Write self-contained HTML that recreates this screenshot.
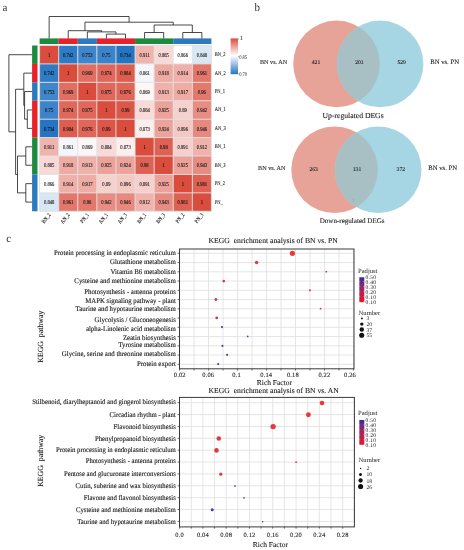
<!DOCTYPE html>
<html><head><meta charset="utf-8"><style>
html,body{margin:0;padding:0;background:#fff;}
body{width:464px;height:550px;overflow:hidden;}
svg{display:block;will-change:transform;}
text{font-family:'Liberation Serif',serif;text-rendering:geometricPrecision;}
</style></head><body>
<svg width="464" height="550" viewBox="0 0 464 550">
<rect width="464" height="550" fill="#fff"/>
<rect x="39.60" y="45.50" width="19.09" height="18.42" fill="#da4c3c"/>
<rect x="58.69" y="45.50" width="19.09" height="18.42" fill="#307bc5"/>
<rect x="77.78" y="45.50" width="19.09" height="18.42" fill="#4086ca"/>
<rect x="96.87" y="45.50" width="19.09" height="18.42" fill="#3c83c9"/>
<rect x="115.96" y="45.50" width="19.09" height="18.42" fill="#2474c2"/>
<rect x="135.05" y="45.50" width="19.09" height="18.42" fill="#f0b4ae"/>
<rect x="154.14" y="45.50" width="19.09" height="18.42" fill="#f7d9d6"/>
<rect x="173.23" y="45.50" width="19.09" height="18.42" fill="#ffffff"/>
<rect x="192.32" y="45.50" width="19.09" height="18.42" fill="#d9e7f4"/>
<rect x="39.60" y="63.92" width="19.09" height="18.42" fill="#307bc5"/>
<rect x="58.69" y="63.92" width="19.09" height="18.42" fill="#da4c3c"/>
<rect x="77.78" y="63.92" width="19.09" height="18.42" fill="#e16e61"/>
<rect x="96.87" y="63.92" width="19.09" height="18.42" fill="#e0685b"/>
<rect x="115.96" y="63.92" width="19.09" height="18.42" fill="#de5d4f"/>
<rect x="135.05" y="63.92" width="19.09" height="18.42" fill="#f3f7fc"/>
<rect x="154.14" y="63.92" width="19.09" height="18.42" fill="#eeaba4"/>
<rect x="173.23" y="63.92" width="19.09" height="18.42" fill="#efb0a9"/>
<rect x="192.32" y="63.92" width="19.09" height="18.42" fill="#e3776b"/>
<rect x="39.60" y="82.34" width="19.09" height="18.42" fill="#4086ca"/>
<rect x="58.69" y="82.34" width="19.09" height="18.42" fill="#e16e61"/>
<rect x="77.78" y="82.34" width="19.09" height="18.42" fill="#da4c3c"/>
<rect x="96.87" y="82.34" width="19.09" height="18.42" fill="#e0675a"/>
<rect x="115.96" y="82.34" width="19.09" height="18.42" fill="#df6658"/>
<rect x="135.05" y="82.34" width="19.09" height="18.42" fill="#fdf6f6"/>
<rect x="154.14" y="82.34" width="19.09" height="18.42" fill="#efb2ab"/>
<rect x="173.23" y="82.34" width="19.09" height="18.42" fill="#eeaca5"/>
<rect x="192.32" y="82.34" width="19.09" height="18.42" fill="#e3786c"/>
<rect x="39.60" y="100.76" width="19.09" height="18.42" fill="#3c83c9"/>
<rect x="58.69" y="100.76" width="19.09" height="18.42" fill="#e0685b"/>
<rect x="77.78" y="100.76" width="19.09" height="18.42" fill="#e0675a"/>
<rect x="96.87" y="100.76" width="19.09" height="18.42" fill="#da4c3c"/>
<rect x="115.96" y="100.76" width="19.09" height="18.42" fill="#dc5748"/>
<rect x="135.05" y="100.76" width="19.09" height="18.42" fill="#f8dbd8"/>
<rect x="154.14" y="100.76" width="19.09" height="18.42" fill="#eca29a"/>
<rect x="173.23" y="100.76" width="19.09" height="18.42" fill="#f6d2ce"/>
<rect x="192.32" y="100.76" width="19.09" height="18.42" fill="#e78d83"/>
<rect x="39.60" y="119.18" width="19.09" height="18.42" fill="#2474c2"/>
<rect x="58.69" y="119.18" width="19.09" height="18.42" fill="#de5d4f"/>
<rect x="77.78" y="119.18" width="19.09" height="18.42" fill="#df6658"/>
<rect x="96.87" y="119.18" width="19.09" height="18.42" fill="#dc5748"/>
<rect x="115.96" y="119.18" width="19.09" height="18.42" fill="#da4c3c"/>
<rect x="135.05" y="119.18" width="19.09" height="18.42" fill="#fceeed"/>
<rect x="154.14" y="119.18" width="19.09" height="18.42" fill="#eca39b"/>
<rect x="173.23" y="119.18" width="19.09" height="18.42" fill="#f4c9c4"/>
<rect x="192.32" y="119.18" width="19.09" height="18.42" fill="#e7897e"/>
<rect x="39.60" y="137.60" width="19.09" height="18.42" fill="#f0b4ae"/>
<rect x="58.69" y="137.60" width="19.09" height="18.42" fill="#f3f7fc"/>
<rect x="77.78" y="137.60" width="19.09" height="18.42" fill="#fdf6f6"/>
<rect x="96.87" y="137.60" width="19.09" height="18.42" fill="#f8dbd8"/>
<rect x="115.96" y="137.60" width="19.09" height="18.42" fill="#fceeed"/>
<rect x="135.05" y="137.60" width="19.09" height="18.42" fill="#da4c3c"/>
<rect x="154.14" y="137.60" width="19.09" height="18.42" fill="#de6254"/>
<rect x="173.23" y="137.60" width="19.09" height="18.42" fill="#f5d0cc"/>
<rect x="192.32" y="137.60" width="19.09" height="18.42" fill="#efb3ac"/>
<rect x="39.60" y="156.02" width="19.09" height="18.42" fill="#f7d9d6"/>
<rect x="58.69" y="156.02" width="19.09" height="18.42" fill="#eeaba4"/>
<rect x="77.78" y="156.02" width="19.09" height="18.42" fill="#efb2ab"/>
<rect x="96.87" y="156.02" width="19.09" height="18.42" fill="#eca29a"/>
<rect x="115.96" y="156.02" width="19.09" height="18.42" fill="#eca39b"/>
<rect x="135.05" y="156.02" width="19.09" height="18.42" fill="#de6254"/>
<rect x="154.14" y="156.02" width="19.09" height="18.42" fill="#da4c3c"/>
<rect x="173.23" y="156.02" width="19.09" height="18.42" fill="#eca29a"/>
<rect x="192.32" y="156.02" width="19.09" height="18.42" fill="#e78c82"/>
<rect x="39.60" y="174.44" width="19.09" height="18.42" fill="#ffffff"/>
<rect x="58.69" y="174.44" width="19.09" height="18.42" fill="#efb0a9"/>
<rect x="77.78" y="174.44" width="19.09" height="18.42" fill="#eeaca5"/>
<rect x="96.87" y="174.44" width="19.09" height="18.42" fill="#f6d2ce"/>
<rect x="115.96" y="174.44" width="19.09" height="18.42" fill="#f4c9c4"/>
<rect x="135.05" y="174.44" width="19.09" height="18.42" fill="#f5d0cc"/>
<rect x="154.14" y="174.44" width="19.09" height="18.42" fill="#eca29a"/>
<rect x="173.23" y="174.44" width="19.09" height="18.42" fill="#da4c3c"/>
<rect x="192.32" y="174.44" width="19.09" height="18.42" fill="#de6152"/>
<rect x="39.60" y="192.86" width="19.09" height="18.42" fill="#d9e7f4"/>
<rect x="58.69" y="192.86" width="19.09" height="18.42" fill="#e3776b"/>
<rect x="77.78" y="192.86" width="19.09" height="18.42" fill="#e3786c"/>
<rect x="96.87" y="192.86" width="19.09" height="18.42" fill="#e78d83"/>
<rect x="115.96" y="192.86" width="19.09" height="18.42" fill="#e7897e"/>
<rect x="135.05" y="192.86" width="19.09" height="18.42" fill="#efb3ac"/>
<rect x="154.14" y="192.86" width="19.09" height="18.42" fill="#e78c82"/>
<rect x="173.23" y="192.86" width="19.09" height="18.42" fill="#de6152"/>
<rect x="192.32" y="192.86" width="19.09" height="18.42" fill="#da4c3c"/>
<line x1="39.60" y1="45.50" x2="39.60" y2="211.28" stroke="#e2e0e0" stroke-width="0.9"/>
<line x1="58.69" y1="45.50" x2="58.69" y2="211.28" stroke="#e2e0e0" stroke-width="0.9"/>
<line x1="77.78" y1="45.50" x2="77.78" y2="211.28" stroke="#e2e0e0" stroke-width="0.9"/>
<line x1="96.87" y1="45.50" x2="96.87" y2="211.28" stroke="#e2e0e0" stroke-width="0.9"/>
<line x1="115.96" y1="45.50" x2="115.96" y2="211.28" stroke="#e2e0e0" stroke-width="0.9"/>
<line x1="135.05" y1="45.50" x2="135.05" y2="211.28" stroke="#e2e0e0" stroke-width="0.9"/>
<line x1="154.14" y1="45.50" x2="154.14" y2="211.28" stroke="#e2e0e0" stroke-width="0.9"/>
<line x1="173.23" y1="45.50" x2="173.23" y2="211.28" stroke="#e2e0e0" stroke-width="0.9"/>
<line x1="192.32" y1="45.50" x2="192.32" y2="211.28" stroke="#e2e0e0" stroke-width="0.9"/>
<line x1="211.41" y1="45.50" x2="211.41" y2="211.28" stroke="#e2e0e0" stroke-width="0.9"/>
<line x1="39.60" y1="45.50" x2="211.41" y2="45.50" stroke="#e2e0e0" stroke-width="0.9"/>
<line x1="39.60" y1="63.92" x2="211.41" y2="63.92" stroke="#e2e0e0" stroke-width="0.9"/>
<line x1="39.60" y1="82.34" x2="211.41" y2="82.34" stroke="#e2e0e0" stroke-width="0.9"/>
<line x1="39.60" y1="100.76" x2="211.41" y2="100.76" stroke="#e2e0e0" stroke-width="0.9"/>
<line x1="39.60" y1="119.18" x2="211.41" y2="119.18" stroke="#e2e0e0" stroke-width="0.9"/>
<line x1="39.60" y1="137.60" x2="211.41" y2="137.60" stroke="#e2e0e0" stroke-width="0.9"/>
<line x1="39.60" y1="156.02" x2="211.41" y2="156.02" stroke="#e2e0e0" stroke-width="0.9"/>
<line x1="39.60" y1="174.44" x2="211.41" y2="174.44" stroke="#e2e0e0" stroke-width="0.9"/>
<line x1="39.60" y1="192.86" x2="211.41" y2="192.86" stroke="#e2e0e0" stroke-width="0.9"/>
<line x1="39.60" y1="211.28" x2="211.41" y2="211.28" stroke="#e2e0e0" stroke-width="0.9"/>
<text x="0" y="0" font-size="6.0" text-anchor="middle" fill="#111" stroke="#111" stroke-width="0.12" transform="translate(49.15,56.91) scale(0.77,1)">1</text>
<text x="0" y="0" font-size="6.0" text-anchor="middle" fill="#111" stroke="#111" stroke-width="0.12" transform="translate(68.23,56.91) scale(0.77,1)">0.742</text>
<text x="0" y="0" font-size="6.0" text-anchor="middle" fill="#111" stroke="#111" stroke-width="0.12" transform="translate(87.33,56.91) scale(0.77,1)">0.753</text>
<text x="0" y="0" font-size="6.0" text-anchor="middle" fill="#111" stroke="#111" stroke-width="0.12" transform="translate(106.41,56.91) scale(0.77,1)">0.75</text>
<text x="0" y="0" font-size="6.0" text-anchor="middle" fill="#111" stroke="#111" stroke-width="0.12" transform="translate(125.50,56.91) scale(0.77,1)">0.734</text>
<text x="0" y="0" font-size="6.0" text-anchor="middle" fill="#111" stroke="#111" stroke-width="0.12" transform="translate(144.59,56.91) scale(0.77,1)">0.911</text>
<text x="0" y="0" font-size="6.0" text-anchor="middle" fill="#111" stroke="#111" stroke-width="0.12" transform="translate(163.69,56.91) scale(0.77,1)">0.885</text>
<text x="0" y="0" font-size="6.0" text-anchor="middle" fill="#111" stroke="#111" stroke-width="0.12" transform="translate(182.78,56.91) scale(0.77,1)">0.866</text>
<text x="0" y="0" font-size="6.0" text-anchor="middle" fill="#111" stroke="#111" stroke-width="0.12" transform="translate(201.86,56.91) scale(0.77,1)">0.848</text>
<text x="0" y="0" font-size="6.0" text-anchor="middle" fill="#111" stroke="#111" stroke-width="0.12" transform="translate(49.15,75.33) scale(0.77,1)">0.742</text>
<text x="0" y="0" font-size="6.0" text-anchor="middle" fill="#111" stroke="#111" stroke-width="0.12" transform="translate(68.23,75.33) scale(0.77,1)">1</text>
<text x="0" y="0" font-size="6.0" text-anchor="middle" fill="#111" stroke="#111" stroke-width="0.12" transform="translate(87.33,75.33) scale(0.77,1)">0.969</text>
<text x="0" y="0" font-size="6.0" text-anchor="middle" fill="#111" stroke="#111" stroke-width="0.12" transform="translate(106.41,75.33) scale(0.77,1)">0.974</text>
<text x="0" y="0" font-size="6.0" text-anchor="middle" fill="#111" stroke="#111" stroke-width="0.12" transform="translate(125.50,75.33) scale(0.77,1)">0.984</text>
<text x="0" y="0" font-size="6.0" text-anchor="middle" fill="#111" stroke="#111" stroke-width="0.12" transform="translate(144.59,75.33) scale(0.77,1)">0.861</text>
<text x="0" y="0" font-size="6.0" text-anchor="middle" fill="#111" stroke="#111" stroke-width="0.12" transform="translate(163.69,75.33) scale(0.77,1)">0.918</text>
<text x="0" y="0" font-size="6.0" text-anchor="middle" fill="#111" stroke="#111" stroke-width="0.12" transform="translate(182.78,75.33) scale(0.77,1)">0.914</text>
<text x="0" y="0" font-size="6.0" text-anchor="middle" fill="#111" stroke="#111" stroke-width="0.12" transform="translate(201.86,75.33) scale(0.77,1)">0.961</text>
<text x="0" y="0" font-size="6.0" text-anchor="middle" fill="#111" stroke="#111" stroke-width="0.12" transform="translate(49.15,93.75) scale(0.77,1)">0.753</text>
<text x="0" y="0" font-size="6.0" text-anchor="middle" fill="#111" stroke="#111" stroke-width="0.12" transform="translate(68.23,93.75) scale(0.77,1)">0.969</text>
<text x="0" y="0" font-size="6.0" text-anchor="middle" fill="#111" stroke="#111" stroke-width="0.12" transform="translate(87.33,93.75) scale(0.77,1)">1</text>
<text x="0" y="0" font-size="6.0" text-anchor="middle" fill="#111" stroke="#111" stroke-width="0.12" transform="translate(106.41,93.75) scale(0.77,1)">0.975</text>
<text x="0" y="0" font-size="6.0" text-anchor="middle" fill="#111" stroke="#111" stroke-width="0.12" transform="translate(125.50,93.75) scale(0.77,1)">0.976</text>
<text x="0" y="0" font-size="6.0" text-anchor="middle" fill="#111" stroke="#111" stroke-width="0.12" transform="translate(144.59,93.75) scale(0.77,1)">0.869</text>
<text x="0" y="0" font-size="6.0" text-anchor="middle" fill="#111" stroke="#111" stroke-width="0.12" transform="translate(163.69,93.75) scale(0.77,1)">0.913</text>
<text x="0" y="0" font-size="6.0" text-anchor="middle" fill="#111" stroke="#111" stroke-width="0.12" transform="translate(182.78,93.75) scale(0.77,1)">0.917</text>
<text x="0" y="0" font-size="6.0" text-anchor="middle" fill="#111" stroke="#111" stroke-width="0.12" transform="translate(201.86,93.75) scale(0.77,1)">0.96</text>
<text x="0" y="0" font-size="6.0" text-anchor="middle" fill="#111" stroke="#111" stroke-width="0.12" transform="translate(49.15,112.17) scale(0.77,1)">0.75</text>
<text x="0" y="0" font-size="6.0" text-anchor="middle" fill="#111" stroke="#111" stroke-width="0.12" transform="translate(68.23,112.17) scale(0.77,1)">0.974</text>
<text x="0" y="0" font-size="6.0" text-anchor="middle" fill="#111" stroke="#111" stroke-width="0.12" transform="translate(87.33,112.17) scale(0.77,1)">0.975</text>
<text x="0" y="0" font-size="6.0" text-anchor="middle" fill="#111" stroke="#111" stroke-width="0.12" transform="translate(106.41,112.17) scale(0.77,1)">1</text>
<text x="0" y="0" font-size="6.0" text-anchor="middle" fill="#111" stroke="#111" stroke-width="0.12" transform="translate(125.50,112.17) scale(0.77,1)">0.99</text>
<text x="0" y="0" font-size="6.0" text-anchor="middle" fill="#111" stroke="#111" stroke-width="0.12" transform="translate(144.59,112.17) scale(0.77,1)">0.884</text>
<text x="0" y="0" font-size="6.0" text-anchor="middle" fill="#111" stroke="#111" stroke-width="0.12" transform="translate(163.69,112.17) scale(0.77,1)">0.925</text>
<text x="0" y="0" font-size="6.0" text-anchor="middle" fill="#111" stroke="#111" stroke-width="0.12" transform="translate(182.78,112.17) scale(0.77,1)">0.89</text>
<text x="0" y="0" font-size="6.0" text-anchor="middle" fill="#111" stroke="#111" stroke-width="0.12" transform="translate(201.86,112.17) scale(0.77,1)">0.942</text>
<text x="0" y="0" font-size="6.0" text-anchor="middle" fill="#111" stroke="#111" stroke-width="0.12" transform="translate(49.15,130.59) scale(0.77,1)">0.734</text>
<text x="0" y="0" font-size="6.0" text-anchor="middle" fill="#111" stroke="#111" stroke-width="0.12" transform="translate(68.23,130.59) scale(0.77,1)">0.984</text>
<text x="0" y="0" font-size="6.0" text-anchor="middle" fill="#111" stroke="#111" stroke-width="0.12" transform="translate(87.33,130.59) scale(0.77,1)">0.976</text>
<text x="0" y="0" font-size="6.0" text-anchor="middle" fill="#111" stroke="#111" stroke-width="0.12" transform="translate(106.41,130.59) scale(0.77,1)">0.99</text>
<text x="0" y="0" font-size="6.0" text-anchor="middle" fill="#111" stroke="#111" stroke-width="0.12" transform="translate(125.50,130.59) scale(0.77,1)">1</text>
<text x="0" y="0" font-size="6.0" text-anchor="middle" fill="#111" stroke="#111" stroke-width="0.12" transform="translate(144.59,130.59) scale(0.77,1)">0.873</text>
<text x="0" y="0" font-size="6.0" text-anchor="middle" fill="#111" stroke="#111" stroke-width="0.12" transform="translate(163.69,130.59) scale(0.77,1)">0.924</text>
<text x="0" y="0" font-size="6.0" text-anchor="middle" fill="#111" stroke="#111" stroke-width="0.12" transform="translate(182.78,130.59) scale(0.77,1)">0.896</text>
<text x="0" y="0" font-size="6.0" text-anchor="middle" fill="#111" stroke="#111" stroke-width="0.12" transform="translate(201.86,130.59) scale(0.77,1)">0.946</text>
<text x="0" y="0" font-size="6.0" text-anchor="middle" fill="#111" stroke="#111" stroke-width="0.12" transform="translate(49.15,149.01) scale(0.77,1)">0.911</text>
<text x="0" y="0" font-size="6.0" text-anchor="middle" fill="#111" stroke="#111" stroke-width="0.12" transform="translate(68.23,149.01) scale(0.77,1)">0.861</text>
<text x="0" y="0" font-size="6.0" text-anchor="middle" fill="#111" stroke="#111" stroke-width="0.12" transform="translate(87.33,149.01) scale(0.77,1)">0.869</text>
<text x="0" y="0" font-size="6.0" text-anchor="middle" fill="#111" stroke="#111" stroke-width="0.12" transform="translate(106.41,149.01) scale(0.77,1)">0.884</text>
<text x="0" y="0" font-size="6.0" text-anchor="middle" fill="#111" stroke="#111" stroke-width="0.12" transform="translate(125.50,149.01) scale(0.77,1)">0.873</text>
<text x="0" y="0" font-size="6.0" text-anchor="middle" fill="#111" stroke="#111" stroke-width="0.12" transform="translate(144.59,149.01) scale(0.77,1)">1</text>
<text x="0" y="0" font-size="6.0" text-anchor="middle" fill="#111" stroke="#111" stroke-width="0.12" transform="translate(163.69,149.01) scale(0.77,1)">0.98</text>
<text x="0" y="0" font-size="6.0" text-anchor="middle" fill="#111" stroke="#111" stroke-width="0.12" transform="translate(182.78,149.01) scale(0.77,1)">0.891</text>
<text x="0" y="0" font-size="6.0" text-anchor="middle" fill="#111" stroke="#111" stroke-width="0.12" transform="translate(201.86,149.01) scale(0.77,1)">0.912</text>
<text x="0" y="0" font-size="6.0" text-anchor="middle" fill="#111" stroke="#111" stroke-width="0.12" transform="translate(49.15,167.43) scale(0.77,1)">0.885</text>
<text x="0" y="0" font-size="6.0" text-anchor="middle" fill="#111" stroke="#111" stroke-width="0.12" transform="translate(68.23,167.43) scale(0.77,1)">0.918</text>
<text x="0" y="0" font-size="6.0" text-anchor="middle" fill="#111" stroke="#111" stroke-width="0.12" transform="translate(87.33,167.43) scale(0.77,1)">0.913</text>
<text x="0" y="0" font-size="6.0" text-anchor="middle" fill="#111" stroke="#111" stroke-width="0.12" transform="translate(106.41,167.43) scale(0.77,1)">0.925</text>
<text x="0" y="0" font-size="6.0" text-anchor="middle" fill="#111" stroke="#111" stroke-width="0.12" transform="translate(125.50,167.43) scale(0.77,1)">0.924</text>
<text x="0" y="0" font-size="6.0" text-anchor="middle" fill="#111" stroke="#111" stroke-width="0.12" transform="translate(144.59,167.43) scale(0.77,1)">0.98</text>
<text x="0" y="0" font-size="6.0" text-anchor="middle" fill="#111" stroke="#111" stroke-width="0.12" transform="translate(163.69,167.43) scale(0.77,1)">1</text>
<text x="0" y="0" font-size="6.0" text-anchor="middle" fill="#111" stroke="#111" stroke-width="0.12" transform="translate(182.78,167.43) scale(0.77,1)">0.925</text>
<text x="0" y="0" font-size="6.0" text-anchor="middle" fill="#111" stroke="#111" stroke-width="0.12" transform="translate(201.86,167.43) scale(0.77,1)">0.943</text>
<text x="0" y="0" font-size="6.0" text-anchor="middle" fill="#111" stroke="#111" stroke-width="0.12" transform="translate(49.15,185.85) scale(0.77,1)">0.866</text>
<text x="0" y="0" font-size="6.0" text-anchor="middle" fill="#111" stroke="#111" stroke-width="0.12" transform="translate(68.23,185.85) scale(0.77,1)">0.914</text>
<text x="0" y="0" font-size="6.0" text-anchor="middle" fill="#111" stroke="#111" stroke-width="0.12" transform="translate(87.33,185.85) scale(0.77,1)">0.917</text>
<text x="0" y="0" font-size="6.0" text-anchor="middle" fill="#111" stroke="#111" stroke-width="0.12" transform="translate(106.41,185.85) scale(0.77,1)">0.89</text>
<text x="0" y="0" font-size="6.0" text-anchor="middle" fill="#111" stroke="#111" stroke-width="0.12" transform="translate(125.50,185.85) scale(0.77,1)">0.896</text>
<text x="0" y="0" font-size="6.0" text-anchor="middle" fill="#111" stroke="#111" stroke-width="0.12" transform="translate(144.59,185.85) scale(0.77,1)">0.891</text>
<text x="0" y="0" font-size="6.0" text-anchor="middle" fill="#111" stroke="#111" stroke-width="0.12" transform="translate(163.69,185.85) scale(0.77,1)">0.925</text>
<text x="0" y="0" font-size="6.0" text-anchor="middle" fill="#111" stroke="#111" stroke-width="0.12" transform="translate(182.78,185.85) scale(0.77,1)">1</text>
<text x="0" y="0" font-size="6.0" text-anchor="middle" fill="#111" stroke="#111" stroke-width="0.12" transform="translate(201.86,185.85) scale(0.77,1)">0.981</text>
<text x="0" y="0" font-size="6.0" text-anchor="middle" fill="#111" stroke="#111" stroke-width="0.12" transform="translate(49.15,204.27) scale(0.77,1)">0.848</text>
<text x="0" y="0" font-size="6.0" text-anchor="middle" fill="#111" stroke="#111" stroke-width="0.12" transform="translate(68.23,204.27) scale(0.77,1)">0.961</text>
<text x="0" y="0" font-size="6.0" text-anchor="middle" fill="#111" stroke="#111" stroke-width="0.12" transform="translate(87.33,204.27) scale(0.77,1)">0.96</text>
<text x="0" y="0" font-size="6.0" text-anchor="middle" fill="#111" stroke="#111" stroke-width="0.12" transform="translate(106.41,204.27) scale(0.77,1)">0.942</text>
<text x="0" y="0" font-size="6.0" text-anchor="middle" fill="#111" stroke="#111" stroke-width="0.12" transform="translate(125.50,204.27) scale(0.77,1)">0.946</text>
<text x="0" y="0" font-size="6.0" text-anchor="middle" fill="#111" stroke="#111" stroke-width="0.12" transform="translate(144.59,204.27) scale(0.77,1)">0.912</text>
<text x="0" y="0" font-size="6.0" text-anchor="middle" fill="#111" stroke="#111" stroke-width="0.12" transform="translate(163.69,204.27) scale(0.77,1)">0.943</text>
<text x="0" y="0" font-size="6.0" text-anchor="middle" fill="#111" stroke="#111" stroke-width="0.12" transform="translate(182.78,204.27) scale(0.77,1)">0.981</text>
<text x="0" y="0" font-size="6.0" text-anchor="middle" fill="#111" stroke="#111" stroke-width="0.12" transform="translate(201.86,204.27) scale(0.77,1)">1</text>
<rect x="39.60" y="38.4" width="19.09" height="5.6" fill="#1e8a3e"/>
<rect x="32.1" y="45.50" width="5.4" height="18.42" fill="#1e8a3e"/>
<rect x="58.69" y="38.4" width="19.09" height="5.6" fill="#e8202a"/>
<rect x="32.1" y="63.92" width="5.4" height="18.42" fill="#e8202a"/>
<rect x="77.78" y="38.4" width="19.09" height="5.6" fill="#2a7abd"/>
<rect x="32.1" y="82.34" width="5.4" height="18.42" fill="#2a7abd"/>
<rect x="96.87" y="38.4" width="38.18" height="5.6" fill="#e8202a"/>
<rect x="32.1" y="100.76" width="5.4" height="36.84" fill="#e8202a"/>
<rect x="135.05" y="38.4" width="38.18" height="5.6" fill="#1e8a3e"/>
<rect x="32.1" y="137.60" width="5.4" height="36.84" fill="#1e8a3e"/>
<rect x="173.23" y="38.4" width="38.18" height="5.6" fill="#2a7abd"/>
<rect x="32.1" y="174.44" width="5.4" height="36.84" fill="#2a7abd"/>
<text x="0" y="0" font-size="5.8" fill="#222" stroke="#222" stroke-width="0.1" transform="translate(214.8,56.21) scale(0.78,1)">BN_2</text>
<text x="0" y="0" font-size="5.8" fill="#222" stroke="#222" stroke-width="0.1" transform="translate(214.8,74.63) scale(0.78,1)">AN_2</text>
<text x="0" y="0" font-size="5.8" fill="#222" stroke="#222" stroke-width="0.1" transform="translate(214.8,93.05) scale(0.78,1)">PN_1</text>
<text x="0" y="0" font-size="5.8" fill="#222" stroke="#222" stroke-width="0.1" transform="translate(214.8,111.47) scale(0.78,1)">AN_1</text>
<text x="0" y="0" font-size="5.8" fill="#222" stroke="#222" stroke-width="0.1" transform="translate(214.8,129.89) scale(0.78,1)">AN_3</text>
<text x="0" y="0" font-size="5.8" fill="#222" stroke="#222" stroke-width="0.1" transform="translate(214.8,148.31) scale(0.78,1)">BN_1</text>
<text x="0" y="0" font-size="5.8" fill="#222" stroke="#222" stroke-width="0.1" transform="translate(214.8,166.73) scale(0.78,1)">BN_3</text>
<text x="0" y="0" font-size="5.8" fill="#222" stroke="#222" stroke-width="0.1" transform="translate(214.8,185.15) scale(0.78,1)">PN_2</text>
<text x="0" y="0" font-size="5.8" fill="#222" stroke="#222" stroke-width="0.1" transform="translate(214.8,203.57) scale(0.78,1)">PN_</text>
<text x="0" y="0" font-size="5.5" text-anchor="end" fill="#222" stroke="#222" stroke-width="0.12" transform="translate(50.95,215.0) rotate(-52) scale(0.85,1)">BN_2</text>
<text x="0" y="0" font-size="5.5" text-anchor="end" fill="#222" stroke="#222" stroke-width="0.12" transform="translate(70.03,215.0) rotate(-52) scale(0.85,1)">AN_2</text>
<text x="0" y="0" font-size="5.5" text-anchor="end" fill="#222" stroke="#222" stroke-width="0.12" transform="translate(89.12,215.0) rotate(-52) scale(0.85,1)">PN_1</text>
<text x="0" y="0" font-size="5.5" text-anchor="end" fill="#222" stroke="#222" stroke-width="0.12" transform="translate(108.21,215.0) rotate(-52) scale(0.85,1)">AN_1</text>
<text x="0" y="0" font-size="5.5" text-anchor="end" fill="#222" stroke="#222" stroke-width="0.12" transform="translate(127.30,215.0) rotate(-52) scale(0.85,1)">AN_3</text>
<text x="0" y="0" font-size="5.5" text-anchor="end" fill="#222" stroke="#222" stroke-width="0.12" transform="translate(146.39,215.0) rotate(-52) scale(0.85,1)">BN_1</text>
<text x="0" y="0" font-size="5.5" text-anchor="end" fill="#222" stroke="#222" stroke-width="0.12" transform="translate(165.48,215.0) rotate(-52) scale(0.85,1)">BN_3</text>
<text x="0" y="0" font-size="5.5" text-anchor="end" fill="#222" stroke="#222" stroke-width="0.12" transform="translate(184.57,215.0) rotate(-52) scale(0.85,1)">PN_2</text>
<text x="0" y="0" font-size="5.5" text-anchor="end" fill="#222" stroke="#222" stroke-width="0.12" transform="translate(203.66,215.0) rotate(-52) scale(0.85,1)">PN_3</text>
<line x1="106.41" y1="38.50" x2="106.41" y2="34.10" stroke="#1c1c1c" stroke-width="0.8"/>
<line x1="106.41" y1="34.10" x2="125.50" y2="34.10" stroke="#1c1c1c" stroke-width="0.8"/>
<line x1="125.50" y1="34.10" x2="125.50" y2="38.50" stroke="#1c1c1c" stroke-width="0.8"/>
<line x1="87.33" y1="38.50" x2="87.33" y2="31.90" stroke="#1c1c1c" stroke-width="0.8"/>
<line x1="87.33" y1="31.90" x2="115.96" y2="31.90" stroke="#1c1c1c" stroke-width="0.8"/>
<line x1="115.96" y1="31.90" x2="115.96" y2="34.10" stroke="#1c1c1c" stroke-width="0.8"/>
<line x1="68.23" y1="38.50" x2="68.23" y2="30.70" stroke="#1c1c1c" stroke-width="0.8"/>
<line x1="68.23" y1="30.70" x2="101.64" y2="30.70" stroke="#1c1c1c" stroke-width="0.8"/>
<line x1="101.64" y1="30.70" x2="101.64" y2="31.90" stroke="#1c1c1c" stroke-width="0.8"/>
<line x1="144.59" y1="38.50" x2="144.59" y2="32.50" stroke="#1c1c1c" stroke-width="0.8"/>
<line x1="144.59" y1="32.50" x2="163.69" y2="32.50" stroke="#1c1c1c" stroke-width="0.8"/>
<line x1="163.69" y1="32.50" x2="163.69" y2="38.50" stroke="#1c1c1c" stroke-width="0.8"/>
<line x1="182.78" y1="38.50" x2="182.78" y2="32.50" stroke="#1c1c1c" stroke-width="0.8"/>
<line x1="182.78" y1="32.50" x2="201.86" y2="32.50" stroke="#1c1c1c" stroke-width="0.8"/>
<line x1="201.86" y1="32.50" x2="201.86" y2="38.50" stroke="#1c1c1c" stroke-width="0.8"/>
<line x1="154.14" y1="32.50" x2="154.14" y2="25.00" stroke="#1c1c1c" stroke-width="0.8"/>
<line x1="154.14" y1="25.00" x2="192.32" y2="25.00" stroke="#1c1c1c" stroke-width="0.8"/>
<line x1="192.32" y1="25.00" x2="192.32" y2="32.50" stroke="#1c1c1c" stroke-width="0.8"/>
<line x1="84.94" y1="30.70" x2="84.94" y2="22.20" stroke="#1c1c1c" stroke-width="0.8"/>
<line x1="84.94" y1="22.20" x2="173.23" y2="22.20" stroke="#1c1c1c" stroke-width="0.8"/>
<line x1="173.23" y1="22.20" x2="173.23" y2="25.00" stroke="#1c1c1c" stroke-width="0.8"/>
<line x1="49.15" y1="38.50" x2="49.15" y2="16.50" stroke="#1c1c1c" stroke-width="0.8"/>
<line x1="49.15" y1="16.50" x2="129.08" y2="16.50" stroke="#1c1c1c" stroke-width="0.8"/>
<line x1="129.08" y1="16.50" x2="129.08" y2="22.20" stroke="#1c1c1c" stroke-width="0.8"/>
<line x1="32.10" y1="109.97" x2="27.30" y2="109.97" stroke="#1c1c1c" stroke-width="0.8"/>
<line x1="27.30" y1="109.97" x2="27.30" y2="128.39" stroke="#1c1c1c" stroke-width="0.8"/>
<line x1="27.30" y1="128.39" x2="32.10" y2="128.39" stroke="#1c1c1c" stroke-width="0.8"/>
<line x1="32.10" y1="91.55" x2="24.60" y2="91.55" stroke="#1c1c1c" stroke-width="0.8"/>
<line x1="24.60" y1="91.55" x2="24.60" y2="119.18" stroke="#1c1c1c" stroke-width="0.8"/>
<line x1="24.60" y1="119.18" x2="27.30" y2="119.18" stroke="#1c1c1c" stroke-width="0.8"/>
<line x1="32.10" y1="73.13" x2="23.80" y2="73.13" stroke="#1c1c1c" stroke-width="0.8"/>
<line x1="23.80" y1="73.13" x2="23.80" y2="105.37" stroke="#1c1c1c" stroke-width="0.8"/>
<line x1="23.80" y1="105.37" x2="24.60" y2="105.37" stroke="#1c1c1c" stroke-width="0.8"/>
<line x1="32.10" y1="146.81" x2="25.80" y2="146.81" stroke="#1c1c1c" stroke-width="0.8"/>
<line x1="25.80" y1="146.81" x2="25.80" y2="165.23" stroke="#1c1c1c" stroke-width="0.8"/>
<line x1="25.80" y1="165.23" x2="32.10" y2="165.23" stroke="#1c1c1c" stroke-width="0.8"/>
<line x1="32.10" y1="183.65" x2="25.80" y2="183.65" stroke="#1c1c1c" stroke-width="0.8"/>
<line x1="25.80" y1="183.65" x2="25.80" y2="202.07" stroke="#1c1c1c" stroke-width="0.8"/>
<line x1="25.80" y1="202.07" x2="32.10" y2="202.07" stroke="#1c1c1c" stroke-width="0.8"/>
<line x1="25.80" y1="156.02" x2="17.50" y2="156.02" stroke="#1c1c1c" stroke-width="0.8"/>
<line x1="17.50" y1="156.02" x2="17.50" y2="192.86" stroke="#1c1c1c" stroke-width="0.8"/>
<line x1="17.50" y1="192.86" x2="25.80" y2="192.86" stroke="#1c1c1c" stroke-width="0.8"/>
<line x1="23.80" y1="89.25" x2="15.60" y2="89.25" stroke="#1c1c1c" stroke-width="0.8"/>
<line x1="15.60" y1="89.25" x2="15.60" y2="174.44" stroke="#1c1c1c" stroke-width="0.8"/>
<line x1="15.60" y1="174.44" x2="17.50" y2="174.44" stroke="#1c1c1c" stroke-width="0.8"/>
<line x1="32.10" y1="54.71" x2="8.90" y2="54.71" stroke="#1c1c1c" stroke-width="0.8"/>
<line x1="8.90" y1="54.71" x2="8.90" y2="131.84" stroke="#1c1c1c" stroke-width="0.8"/>
<line x1="8.90" y1="131.84" x2="15.60" y2="131.84" stroke="#1c1c1c" stroke-width="0.8"/>
<defs><linearGradient id="hl" x1="0" y1="0" x2="0" y2="1"><stop offset="0" stop-color="rgb(218, 76, 60)"/><stop offset="0.48" stop-color="#ffffff"/><stop offset="1" stop-color="rgb(36, 116, 194)"/></linearGradient></defs>
<rect x="230.6" y="38.4" width="7.4" height="35.8" fill="url(#hl)"/>
<line x1="238" y1="38.8" x2="239" y2="38.8" stroke="#555" stroke-width="0.5"/>
<line x1="238" y1="56.4" x2="239" y2="56.4" stroke="#555" stroke-width="0.5"/>
<line x1="238" y1="73.8" x2="239" y2="73.8" stroke="#555" stroke-width="0.5"/>
<text x="239.7" y="39.8" font-size="6.4" fill="#222">1</text>
<text x="0" y="0" font-size="5.6" fill="#222" transform="translate(239.2,59.3) scale(0.8,1)">0.85</text>
<text x="0" y="0" font-size="5.6" fill="#222" transform="translate(239.2,75.6) scale(0.8,1)">0.70</text>
<text x="2.6" y="10.5" font-size="11" fill="#333">a</text>
<text x="0" y="0" font-size="11.6" fill="#333" transform="translate(254.5,10.9) scale(0.95,1)">b</text>
<text x="6.2" y="241.7" font-size="11" fill="#333">c</text>
<defs><clipPath id="c1"><circle cx="336.5" cy="63.9" r="43.3"/></clipPath></defs>
<circle cx="336.5" cy="63.9" r="43.3" fill="#e8a398"/>
<circle cx="380.1" cy="63.9" r="43.3" fill="#a6d6e4"/>
<circle cx="380.1" cy="63.9" r="43.3" fill="#a8c0c4" clip-path="url(#c1)"/>
<defs><clipPath id="c2"><circle cx="334.6" cy="169.8" r="43.3"/></clipPath></defs>
<circle cx="334.6" cy="169.8" r="43.3" fill="#e8a398"/>
<circle cx="378.2" cy="169.8" r="43.3" fill="#a6d6e4"/>
<circle cx="378.2" cy="169.8" r="43.3" fill="#a8c0c4" clip-path="url(#c2)"/>
<text x="316" y="64.2" font-size="5.6" text-anchor="middle" fill="#222" stroke="#222" stroke-width="0.1">421</text>
<text x="359.4" y="64.2" font-size="5.6" text-anchor="middle" fill="#222" stroke="#222" stroke-width="0.1">201</text>
<text x="401.6" y="64.2" font-size="5.6" text-anchor="middle" fill="#222" stroke="#222" stroke-width="0.1">529</text>
<text x="259.9" y="63.9" font-size="6.2" fill="#222" stroke="#222" stroke-width="0.1">BN vs. AN</text>
<text x="430.2" y="63.9" font-size="6.7" fill="#222" stroke="#222" stroke-width="0.1">BN vs. PN</text>
<text x="322.6" y="117.6" font-size="7.66" fill="#222" stroke="#222" stroke-width="0.1">Up-regulated DEGs</text>
<text x="313.6" y="170.6" font-size="5.6" text-anchor="middle" fill="#222" stroke="#222" stroke-width="0.1">263</text>
<text x="357" y="170.6" font-size="5.6" text-anchor="middle" fill="#222" stroke="#222" stroke-width="0.1">131</text>
<text x="400.8" y="170.6" font-size="5.6" text-anchor="middle" fill="#222" stroke="#222" stroke-width="0.1">372</text>
<text x="258.1" y="170.4" font-size="6.2" fill="#222" stroke="#222" stroke-width="0.1">BN vs. AN</text>
<text x="428.3" y="170.4" font-size="6.7" fill="#222" stroke="#222" stroke-width="0.1">BN vs. PN</text>
<text x="352.3" y="201.8" font-size="4" fill="#7f9ea4">1</text>
<text x="319.7" y="222.6" font-size="7.07" fill="#222" stroke="#222" stroke-width="0.1">Down-regulated DEGs</text>
<line x1="179.60" y1="249.0" x2="179.60" y2="368.8" stroke="#dedede" stroke-width="0.8"/>
<line x1="194.09" y1="249.0" x2="194.09" y2="368.8" stroke="#dedede" stroke-width="0.8"/>
<line x1="208.58" y1="249.0" x2="208.58" y2="368.8" stroke="#dedede" stroke-width="0.8"/>
<line x1="223.07" y1="249.0" x2="223.07" y2="368.8" stroke="#dedede" stroke-width="0.8"/>
<line x1="237.56" y1="249.0" x2="237.56" y2="368.8" stroke="#dedede" stroke-width="0.8"/>
<line x1="252.05" y1="249.0" x2="252.05" y2="368.8" stroke="#dedede" stroke-width="0.8"/>
<line x1="266.54" y1="249.0" x2="266.54" y2="368.8" stroke="#dedede" stroke-width="0.8"/>
<line x1="281.03" y1="249.0" x2="281.03" y2="368.8" stroke="#dedede" stroke-width="0.8"/>
<line x1="295.52" y1="249.0" x2="295.52" y2="368.8" stroke="#dedede" stroke-width="0.8"/>
<line x1="310.01" y1="249.0" x2="310.01" y2="368.8" stroke="#dedede" stroke-width="0.8"/>
<line x1="324.50" y1="249.0" x2="324.50" y2="368.8" stroke="#dedede" stroke-width="0.8"/>
<line x1="338.99" y1="249.0" x2="338.99" y2="368.8" stroke="#dedede" stroke-width="0.8"/>
<line x1="353.48" y1="249.0" x2="353.48" y2="368.8" stroke="#dedede" stroke-width="0.8"/>
<line x1="179.5" y1="253.30" x2="354.0" y2="253.30" stroke="#dedede" stroke-width="0.8"/>
<line x1="179.5" y1="262.55" x2="354.0" y2="262.55" stroke="#dedede" stroke-width="0.8"/>
<line x1="179.5" y1="271.80" x2="354.0" y2="271.80" stroke="#dedede" stroke-width="0.8"/>
<line x1="179.5" y1="281.05" x2="354.0" y2="281.05" stroke="#dedede" stroke-width="0.8"/>
<line x1="179.5" y1="290.30" x2="354.0" y2="290.30" stroke="#dedede" stroke-width="0.8"/>
<line x1="179.5" y1="299.55" x2="354.0" y2="299.55" stroke="#dedede" stroke-width="0.8"/>
<line x1="179.5" y1="308.80" x2="354.0" y2="308.80" stroke="#dedede" stroke-width="0.8"/>
<line x1="179.5" y1="318.05" x2="354.0" y2="318.05" stroke="#dedede" stroke-width="0.8"/>
<line x1="179.5" y1="327.30" x2="354.0" y2="327.30" stroke="#dedede" stroke-width="0.8"/>
<line x1="179.5" y1="336.55" x2="354.0" y2="336.55" stroke="#dedede" stroke-width="0.8"/>
<line x1="179.5" y1="345.80" x2="354.0" y2="345.80" stroke="#dedede" stroke-width="0.8"/>
<line x1="179.5" y1="355.05" x2="354.0" y2="355.05" stroke="#dedede" stroke-width="0.8"/>
<line x1="179.5" y1="364.30" x2="354.0" y2="364.30" stroke="#dedede" stroke-width="0.8"/>
<circle cx="292.4" cy="253.4" r="2.6" fill="#ea3836"/>
<circle cx="256.6" cy="262.5" r="1.75" fill="#ea3836"/>
<circle cx="326.3" cy="271.7" r="0.9" fill="#ce3852"/>
<circle cx="223.8" cy="281.1" r="1.3" fill="#cb3856"/>
<circle cx="309.9" cy="290.3" r="0.95" fill="#ce3852"/>
<circle cx="215.9" cy="299.5" r="1.4" fill="#c1385e"/>
<circle cx="320.6" cy="308.7" r="0.85" fill="#c73859"/>
<circle cx="216.7" cy="317.9" r="1.35" fill="#b3386a"/>
<circle cx="222.0" cy="327.1" r="1.05" fill="#5a3aa0"/>
<circle cx="247.7" cy="336.4" r="0.85" fill="#67399b"/>
<circle cx="222.4" cy="345.9" r="1.05" fill="#5a3aa0"/>
<circle cx="227.1" cy="354.9" r="1.05" fill="#67399b"/>
<circle cx="218.2" cy="364.1" r="1.05" fill="#4a3aa6"/>
<rect x="179.5" y="249.0" width="174.5" height="119.80000000000001" fill="none" stroke="#3a3a3a" stroke-width="1"/>
<line x1="177.5" y1="253.30" x2="179.5" y2="253.30" stroke="#333" stroke-width="0.7"/>
<text x="0" y="0" font-size="7.2" text-anchor="end" fill="#1a1a1a" stroke="#1a1a1a" stroke-width="0.13" transform="translate(175.8,254.75) scale(0.95,1)">Protein processing in endoplasmic reticulum</text>
<line x1="177.5" y1="262.55" x2="179.5" y2="262.55" stroke="#333" stroke-width="0.7"/>
<text x="0" y="0" font-size="7.2" text-anchor="end" fill="#1a1a1a" stroke="#1a1a1a" stroke-width="0.13" transform="translate(175.8,264.35) scale(0.95,1)">Glutathione metabolism</text>
<line x1="177.5" y1="271.80" x2="179.5" y2="271.80" stroke="#333" stroke-width="0.7"/>
<text x="0" y="0" font-size="7.2" text-anchor="end" fill="#1a1a1a" stroke="#1a1a1a" stroke-width="0.13" transform="translate(175.8,274.25) scale(0.95,1)">Vitamin B6 metabolism</text>
<line x1="177.5" y1="281.05" x2="179.5" y2="281.05" stroke="#333" stroke-width="0.7"/>
<text x="0" y="0" font-size="7.2" text-anchor="end" fill="#1a1a1a" stroke="#1a1a1a" stroke-width="0.13" transform="translate(175.8,283.15) scale(0.95,1)">Cysteine and methionine metabolism</text>
<line x1="177.5" y1="290.30" x2="179.5" y2="290.30" stroke="#333" stroke-width="0.7"/>
<text x="0" y="0" font-size="7.2" text-anchor="end" fill="#1a1a1a" stroke="#1a1a1a" stroke-width="0.13" transform="translate(175.8,293.85) scale(0.95,1)">Photosynthesis - antenna proteins</text>
<line x1="177.5" y1="299.55" x2="179.5" y2="299.55" stroke="#333" stroke-width="0.7"/>
<text x="0" y="0" font-size="7.2" text-anchor="end" fill="#1a1a1a" stroke="#1a1a1a" stroke-width="0.13" transform="translate(175.8,303.35) scale(0.95,1)">MAPK signaling pathway - plant</text>
<line x1="177.5" y1="308.80" x2="179.5" y2="308.80" stroke="#333" stroke-width="0.7"/>
<text x="0" y="0" font-size="7.2" text-anchor="end" fill="#1a1a1a" stroke="#1a1a1a" stroke-width="0.13" transform="translate(175.8,311.45) scale(0.95,1)">Taurine and hypotaurine metabolism</text>
<line x1="177.5" y1="318.05" x2="179.5" y2="318.05" stroke="#333" stroke-width="0.7"/>
<text x="0" y="0" font-size="7.2" text-anchor="end" fill="#1a1a1a" stroke="#1a1a1a" stroke-width="0.13" transform="translate(175.8,322.25) scale(0.95,1)">Glycolysis / Gluconeogenesis</text>
<line x1="177.5" y1="327.30" x2="179.5" y2="327.30" stroke="#333" stroke-width="0.7"/>
<text x="0" y="0" font-size="7.2" text-anchor="end" fill="#1a1a1a" stroke="#1a1a1a" stroke-width="0.13" transform="translate(175.8,330.85) scale(0.95,1)">alpha-Linolenic acid metabolism</text>
<line x1="177.5" y1="336.55" x2="179.5" y2="336.55" stroke="#333" stroke-width="0.7"/>
<text x="0" y="0" font-size="7.2" text-anchor="end" fill="#1a1a1a" stroke="#1a1a1a" stroke-width="0.13" transform="translate(175.8,340.35) scale(0.95,1)">Zeatin biosynthesis</text>
<line x1="177.5" y1="345.80" x2="179.5" y2="345.80" stroke="#333" stroke-width="0.7"/>
<text x="0" y="0" font-size="7.2" text-anchor="end" fill="#1a1a1a" stroke="#1a1a1a" stroke-width="0.13" transform="translate(175.8,347.45) scale(0.95,1)">Tyrosine metabolism</text>
<line x1="177.5" y1="355.05" x2="179.5" y2="355.05" stroke="#333" stroke-width="0.7"/>
<text x="0" y="0" font-size="7.2" text-anchor="end" fill="#1a1a1a" stroke="#1a1a1a" stroke-width="0.13" transform="translate(175.8,356.35) scale(0.95,1)">Glycine, serine and threonine metabolism</text>
<line x1="177.5" y1="364.30" x2="179.5" y2="364.30" stroke="#333" stroke-width="0.7"/>
<text x="0" y="0" font-size="7.2" text-anchor="end" fill="#1a1a1a" stroke="#1a1a1a" stroke-width="0.13" transform="translate(175.8,366.25) scale(0.95,1)">Protein export</text>
<line x1="179.60" y1="368.8" x2="179.60" y2="370.6" stroke="#333" stroke-width="0.7"/>
<text x="179.80" y="376.8" font-size="6.5" letter-spacing="0.15" text-anchor="middle" fill="#222" stroke="#222" stroke-width="0.1">0.02</text>
<line x1="194.09" y1="368.8" x2="194.09" y2="370.6" stroke="#333" stroke-width="0.7"/>
<line x1="208.58" y1="368.8" x2="208.58" y2="370.6" stroke="#333" stroke-width="0.7"/>
<text x="208.30" y="376.8" font-size="6.5" letter-spacing="0.15" text-anchor="middle" fill="#222" stroke="#222" stroke-width="0.1">0.06</text>
<line x1="223.07" y1="368.8" x2="223.07" y2="370.6" stroke="#333" stroke-width="0.7"/>
<line x1="237.56" y1="368.8" x2="237.56" y2="370.6" stroke="#333" stroke-width="0.7"/>
<text x="236.50" y="376.8" font-size="6.5" letter-spacing="0.15" text-anchor="middle" fill="#222" stroke="#222" stroke-width="0.1">0.1</text>
<line x1="252.05" y1="368.8" x2="252.05" y2="370.6" stroke="#333" stroke-width="0.7"/>
<line x1="266.54" y1="368.8" x2="266.54" y2="370.6" stroke="#333" stroke-width="0.7"/>
<text x="266.30" y="376.8" font-size="6.5" letter-spacing="0.15" text-anchor="middle" fill="#222" stroke="#222" stroke-width="0.1">0.14</text>
<line x1="281.03" y1="368.8" x2="281.03" y2="370.6" stroke="#333" stroke-width="0.7"/>
<line x1="295.52" y1="368.8" x2="295.52" y2="370.6" stroke="#333" stroke-width="0.7"/>
<text x="292.90" y="376.8" font-size="6.5" letter-spacing="0.15" text-anchor="middle" fill="#222" stroke="#222" stroke-width="0.1">0.18</text>
<line x1="310.01" y1="368.8" x2="310.01" y2="370.6" stroke="#333" stroke-width="0.7"/>
<line x1="324.50" y1="368.8" x2="324.50" y2="370.6" stroke="#333" stroke-width="0.7"/>
<text x="324.40" y="376.8" font-size="6.5" letter-spacing="0.15" text-anchor="middle" fill="#222" stroke="#222" stroke-width="0.1">0.22</text>
<line x1="338.99" y1="368.8" x2="338.99" y2="370.6" stroke="#333" stroke-width="0.7"/>
<line x1="353.48" y1="368.8" x2="353.48" y2="370.6" stroke="#333" stroke-width="0.7"/>
<text x="350.00" y="376.8" font-size="6.5" letter-spacing="0.15" text-anchor="middle" fill="#222" stroke="#222" stroke-width="0.1">0.26</text>
<text x="274.4" y="384.6" font-size="7.5" text-anchor="middle" fill="#222" stroke="#222" stroke-width="0.1">Rich Factor</text>
<text x="208.6" y="242.6" font-size="7.66" fill="#222" stroke="#222" stroke-width="0.1" style="white-space:pre">KEGG  enrichment analysis of BN vs. PN</text>
<text x="0" y="0" font-size="7.8" text-anchor="middle" fill="#222" stroke="#222" stroke-width="0.1" style="white-space:pre" transform="translate(43.3,336.7) rotate(-90)">KEGG  pathway</text>
<line x1="179.60" y1="397.4" x2="179.60" y2="526.9" stroke="#dedede" stroke-width="0.8"/>
<line x1="191.25" y1="397.4" x2="191.25" y2="526.9" stroke="#dedede" stroke-width="0.8"/>
<line x1="202.89" y1="397.4" x2="202.89" y2="526.9" stroke="#dedede" stroke-width="0.8"/>
<line x1="214.53" y1="397.4" x2="214.53" y2="526.9" stroke="#dedede" stroke-width="0.8"/>
<line x1="226.18" y1="397.4" x2="226.18" y2="526.9" stroke="#dedede" stroke-width="0.8"/>
<line x1="237.82" y1="397.4" x2="237.82" y2="526.9" stroke="#dedede" stroke-width="0.8"/>
<line x1="249.47" y1="397.4" x2="249.47" y2="526.9" stroke="#dedede" stroke-width="0.8"/>
<line x1="261.12" y1="397.4" x2="261.12" y2="526.9" stroke="#dedede" stroke-width="0.8"/>
<line x1="272.76" y1="397.4" x2="272.76" y2="526.9" stroke="#dedede" stroke-width="0.8"/>
<line x1="284.40" y1="397.4" x2="284.40" y2="526.9" stroke="#dedede" stroke-width="0.8"/>
<line x1="296.05" y1="397.4" x2="296.05" y2="526.9" stroke="#dedede" stroke-width="0.8"/>
<line x1="307.69" y1="397.4" x2="307.69" y2="526.9" stroke="#dedede" stroke-width="0.8"/>
<line x1="319.34" y1="397.4" x2="319.34" y2="526.9" stroke="#dedede" stroke-width="0.8"/>
<line x1="330.99" y1="397.4" x2="330.99" y2="526.9" stroke="#dedede" stroke-width="0.8"/>
<line x1="342.63" y1="397.4" x2="342.63" y2="526.9" stroke="#dedede" stroke-width="0.8"/>
<line x1="354.27" y1="397.4" x2="354.27" y2="526.9" stroke="#dedede" stroke-width="0.8"/>
<line x1="179.5" y1="402.70" x2="354.4" y2="402.70" stroke="#dedede" stroke-width="0.8"/>
<line x1="179.5" y1="414.57" x2="354.4" y2="414.57" stroke="#dedede" stroke-width="0.8"/>
<line x1="179.5" y1="426.44" x2="354.4" y2="426.44" stroke="#dedede" stroke-width="0.8"/>
<line x1="179.5" y1="438.31" x2="354.4" y2="438.31" stroke="#dedede" stroke-width="0.8"/>
<line x1="179.5" y1="450.18" x2="354.4" y2="450.18" stroke="#dedede" stroke-width="0.8"/>
<line x1="179.5" y1="462.05" x2="354.4" y2="462.05" stroke="#dedede" stroke-width="0.8"/>
<line x1="179.5" y1="473.92" x2="354.4" y2="473.92" stroke="#dedede" stroke-width="0.8"/>
<line x1="179.5" y1="485.79" x2="354.4" y2="485.79" stroke="#dedede" stroke-width="0.8"/>
<line x1="179.5" y1="497.66" x2="354.4" y2="497.66" stroke="#dedede" stroke-width="0.8"/>
<line x1="179.5" y1="509.53" x2="354.4" y2="509.53" stroke="#dedede" stroke-width="0.8"/>
<line x1="179.5" y1="521.40" x2="354.4" y2="521.40" stroke="#dedede" stroke-width="0.8"/>
<circle cx="322.0" cy="403.0" r="2.35" fill="#e83839"/>
<circle cx="308.4" cy="414.8" r="2.45" fill="#e83839"/>
<circle cx="273.1" cy="426.6" r="2.7" fill="#e83839"/>
<circle cx="218.8" cy="438.6" r="2.25" fill="#e5383b"/>
<circle cx="216.5" cy="450.4" r="2.3" fill="#e4383d"/>
<circle cx="296.1" cy="462.2" r="0.9" fill="#e03841"/>
<circle cx="220.8" cy="474.2" r="1.6" fill="#e3383e"/>
<circle cx="235.0" cy="486.1" r="0.9" fill="#543aa3"/>
<circle cx="244.0" cy="497.9" r="0.8" fill="#5a3aa0"/>
<circle cx="212.2" cy="509.8" r="1.5" fill="#423aa9"/>
<circle cx="262.7" cy="521.7" r="0.8" fill="#67399b"/>
<rect x="179.5" y="397.4" width="174.89999999999998" height="129.5" fill="none" stroke="#3a3a3a" stroke-width="1"/>
<line x1="177.5" y1="402.70" x2="179.5" y2="402.70" stroke="#333" stroke-width="0.7"/>
<text x="0" y="0" font-size="7.2" text-anchor="end" fill="#1a1a1a" stroke="#1a1a1a" stroke-width="0.13" transform="translate(175.8,404.35) scale(0.935,1)">Stilbenoid, diarylheptanoid and gingerol biosynthesis</text>
<line x1="177.5" y1="414.57" x2="179.5" y2="414.57" stroke="#333" stroke-width="0.7"/>
<text x="0" y="0" font-size="7.2" text-anchor="end" fill="#1a1a1a" stroke="#1a1a1a" stroke-width="0.13" transform="translate(175.8,417.35) scale(0.935,1)">Circadian rhythm - plant</text>
<line x1="177.5" y1="426.44" x2="179.5" y2="426.44" stroke="#333" stroke-width="0.7"/>
<text x="0" y="0" font-size="7.2" text-anchor="end" fill="#1a1a1a" stroke="#1a1a1a" stroke-width="0.13" transform="translate(175.8,429.15) scale(0.935,1)">Flavonoid biosynthesis</text>
<line x1="177.5" y1="438.31" x2="179.5" y2="438.31" stroke="#333" stroke-width="0.7"/>
<text x="0" y="0" font-size="7.2" text-anchor="end" fill="#1a1a1a" stroke="#1a1a1a" stroke-width="0.13" transform="translate(175.8,440.85) scale(0.935,1)">Phenylpropanoid biosynthesis</text>
<line x1="177.5" y1="450.18" x2="179.5" y2="450.18" stroke="#333" stroke-width="0.7"/>
<text x="0" y="0" font-size="7.2" text-anchor="end" fill="#1a1a1a" stroke="#1a1a1a" stroke-width="0.13" transform="translate(175.8,452.15) scale(0.935,1)">Protein processing in endoplasmic reticulum</text>
<line x1="177.5" y1="462.05" x2="179.5" y2="462.05" stroke="#333" stroke-width="0.7"/>
<text x="0" y="0" font-size="7.2" text-anchor="end" fill="#1a1a1a" stroke="#1a1a1a" stroke-width="0.13" transform="translate(175.8,463.35) scale(0.935,1)">Photosynthesis - antenna proteins</text>
<line x1="177.5" y1="473.92" x2="179.5" y2="473.92" stroke="#333" stroke-width="0.7"/>
<text x="0" y="0" font-size="7.2" text-anchor="end" fill="#1a1a1a" stroke="#1a1a1a" stroke-width="0.13" transform="translate(175.8,475.75) scale(0.935,1)">Pentose and glucuronate interconversions</text>
<line x1="177.5" y1="485.79" x2="179.5" y2="485.79" stroke="#333" stroke-width="0.7"/>
<text x="0" y="0" font-size="7.2" text-anchor="end" fill="#1a1a1a" stroke="#1a1a1a" stroke-width="0.13" transform="translate(175.8,488.25) scale(0.935,1)">Cutin, suberine and wax biosynthesis</text>
<line x1="177.5" y1="497.66" x2="179.5" y2="497.66" stroke="#333" stroke-width="0.7"/>
<text x="0" y="0" font-size="7.2" text-anchor="end" fill="#1a1a1a" stroke="#1a1a1a" stroke-width="0.13" transform="translate(175.8,499.95) scale(0.935,1)">Flavone and flavonol biosynthesis</text>
<line x1="177.5" y1="509.53" x2="179.5" y2="509.53" stroke="#333" stroke-width="0.7"/>
<text x="0" y="0" font-size="7.2" text-anchor="end" fill="#1a1a1a" stroke="#1a1a1a" stroke-width="0.13" transform="translate(175.8,511.95) scale(0.935,1)">Cysteine and methionine metabolism</text>
<line x1="177.5" y1="521.40" x2="179.5" y2="521.40" stroke="#333" stroke-width="0.7"/>
<text x="0" y="0" font-size="7.2" text-anchor="end" fill="#1a1a1a" stroke="#1a1a1a" stroke-width="0.13" transform="translate(175.8,523.55) scale(0.935,1)">Taurine and hypotaurine metabolism</text>
<line x1="179.60" y1="526.9" x2="179.60" y2="528.6999999999999" stroke="#333" stroke-width="0.7"/>
<text x="179.60" y="537.1" font-size="6.5" letter-spacing="0.15" text-anchor="middle" fill="#222" stroke="#222" stroke-width="0.1">0.0</text>
<line x1="191.25" y1="526.9" x2="191.25" y2="528.6999999999999" stroke="#333" stroke-width="0.7"/>
<line x1="202.89" y1="526.9" x2="202.89" y2="528.6999999999999" stroke="#333" stroke-width="0.7"/>
<text x="202.89" y="537.1" font-size="6.5" letter-spacing="0.15" text-anchor="middle" fill="#222" stroke="#222" stroke-width="0.1">0.04</text>
<line x1="214.53" y1="526.9" x2="214.53" y2="528.6999999999999" stroke="#333" stroke-width="0.7"/>
<line x1="226.18" y1="526.9" x2="226.18" y2="528.6999999999999" stroke="#333" stroke-width="0.7"/>
<text x="226.18" y="537.1" font-size="6.5" letter-spacing="0.15" text-anchor="middle" fill="#222" stroke="#222" stroke-width="0.1">0.08</text>
<line x1="237.82" y1="526.9" x2="237.82" y2="528.6999999999999" stroke="#333" stroke-width="0.7"/>
<line x1="249.47" y1="526.9" x2="249.47" y2="528.6999999999999" stroke="#333" stroke-width="0.7"/>
<text x="249.47" y="537.1" font-size="6.5" letter-spacing="0.15" text-anchor="middle" fill="#222" stroke="#222" stroke-width="0.1">0.12</text>
<line x1="261.12" y1="526.9" x2="261.12" y2="528.6999999999999" stroke="#333" stroke-width="0.7"/>
<line x1="272.76" y1="526.9" x2="272.76" y2="528.6999999999999" stroke="#333" stroke-width="0.7"/>
<text x="272.76" y="537.1" font-size="6.5" letter-spacing="0.15" text-anchor="middle" fill="#222" stroke="#222" stroke-width="0.1">0.16</text>
<line x1="284.40" y1="526.9" x2="284.40" y2="528.6999999999999" stroke="#333" stroke-width="0.7"/>
<line x1="296.05" y1="526.9" x2="296.05" y2="528.6999999999999" stroke="#333" stroke-width="0.7"/>
<text x="296.05" y="537.1" font-size="6.5" letter-spacing="0.15" text-anchor="middle" fill="#222" stroke="#222" stroke-width="0.1">0.20</text>
<line x1="307.69" y1="526.9" x2="307.69" y2="528.6999999999999" stroke="#333" stroke-width="0.7"/>
<line x1="319.34" y1="526.9" x2="319.34" y2="528.6999999999999" stroke="#333" stroke-width="0.7"/>
<text x="319.34" y="537.1" font-size="6.5" letter-spacing="0.15" text-anchor="middle" fill="#222" stroke="#222" stroke-width="0.1">0.24</text>
<line x1="330.99" y1="526.9" x2="330.99" y2="528.6999999999999" stroke="#333" stroke-width="0.7"/>
<line x1="342.63" y1="526.9" x2="342.63" y2="528.6999999999999" stroke="#333" stroke-width="0.7"/>
<text x="342.63" y="537.1" font-size="6.5" letter-spacing="0.15" text-anchor="middle" fill="#222" stroke="#222" stroke-width="0.1">0.28</text>
<text x="270.4" y="547.1" font-size="7.5" text-anchor="middle" fill="#222" stroke="#222" stroke-width="0.1">Rich Factor</text>
<text x="208.6" y="393.2" font-size="7.66" fill="#222" stroke="#222" stroke-width="0.1" style="white-space:pre">KEGG  enrichment analysis of BN vs. AN</text>
<text x="0" y="0" font-size="7.8" text-anchor="middle" fill="#222" stroke="#222" stroke-width="0.1" style="white-space:pre" transform="translate(43.3,460.8) rotate(-90)">KEGG  pathway</text>
<text x="358.0" y="273.2" font-size="6.6" fill="#222">Padjust</text>
<defs><linearGradient id="pg273" x1="0" y1="0" x2="0" y2="1"><stop offset="0.0" stop-color="#282c96"/><stop offset="0.1" stop-color="#512b8b"/><stop offset="0.2" stop-color="#6b2980"/><stop offset="0.3" stop-color="#802876"/><stop offset="0.4" stop-color="#92266b"/><stop offset="0.5" stop-color="#a32460"/><stop offset="0.6" stop-color="#b32155"/><stop offset="0.7" stop-color="#c21e4a"/><stop offset="0.8" stop-color="#d11a3e"/><stop offset="0.9" stop-color="#e01532"/><stop offset="1.0" stop-color="#ee0e24"/></linearGradient></defs>
<rect x="359.3" y="277.3" width="5" height="24.899999999999977" fill="url(#pg273)"/>
<line x1="359.3" y1="276.6" x2="360.2" y2="276.6" stroke="#fff" stroke-width="0.4"/>
<line x1="363.4" y1="276.6" x2="364.3" y2="276.6" stroke="#fff" stroke-width="0.4"/>
<text x="365.5" y="279.0" font-size="5.5" letter-spacing="0.3" fill="#222">0.50</text>
<line x1="359.3" y1="281.6" x2="360.2" y2="281.6" stroke="#fff" stroke-width="0.4"/>
<line x1="363.4" y1="281.6" x2="364.3" y2="281.6" stroke="#fff" stroke-width="0.4"/>
<text x="365.5" y="284.0" font-size="5.5" letter-spacing="0.3" fill="#222">0.40</text>
<line x1="359.3" y1="286.6" x2="360.2" y2="286.6" stroke="#fff" stroke-width="0.4"/>
<line x1="363.4" y1="286.6" x2="364.3" y2="286.6" stroke="#fff" stroke-width="0.4"/>
<text x="365.5" y="289.0" font-size="5.5" letter-spacing="0.3" fill="#222">0.30</text>
<line x1="359.3" y1="291.6" x2="360.2" y2="291.6" stroke="#fff" stroke-width="0.4"/>
<line x1="363.4" y1="291.6" x2="364.3" y2="291.6" stroke="#fff" stroke-width="0.4"/>
<text x="365.5" y="294.0" font-size="5.5" letter-spacing="0.3" fill="#222">0.20</text>
<line x1="359.3" y1="296.6" x2="360.2" y2="296.6" stroke="#fff" stroke-width="0.4"/>
<line x1="363.4" y1="296.6" x2="364.3" y2="296.6" stroke="#fff" stroke-width="0.4"/>
<text x="365.5" y="299.0" font-size="5.5" letter-spacing="0.3" fill="#222">0.10</text>
<line x1="359.3" y1="301.6" x2="360.2" y2="301.6" stroke="#fff" stroke-width="0.4"/>
<line x1="363.4" y1="301.6" x2="364.3" y2="301.6" stroke="#fff" stroke-width="0.4"/>
<text x="365.5" y="304.0" font-size="5.5" letter-spacing="0.3" fill="#222">0.10</text>
<text x="358.6" y="314.9" font-size="6.6" fill="#222">Number</text>
<circle cx="361.9" cy="318.4" r="0.95" fill="#111"/>
<text x="366.4" y="320.4" font-size="5.6" fill="#222">3</text>
<circle cx="361.8" cy="324.1" r="1.7" fill="#111"/>
<text x="366.4" y="326.1" font-size="5.6" fill="#222">20</text>
<circle cx="361.8" cy="329.5" r="2.2" fill="#111"/>
<text x="366.4" y="331.5" font-size="5.6" fill="#222">37</text>
<circle cx="361.7" cy="335.2" r="2.55" fill="#111"/>
<text x="366.4" y="337.2" font-size="5.6" fill="#222">55</text>
<text x="358.0" y="414.6" font-size="6.6" fill="#222">Padjust</text>
<defs><linearGradient id="pg414" x1="0" y1="0" x2="0" y2="1"><stop offset="0.0" stop-color="#282c96"/><stop offset="0.1" stop-color="#512b8b"/><stop offset="0.2" stop-color="#6b2980"/><stop offset="0.3" stop-color="#802876"/><stop offset="0.4" stop-color="#92266b"/><stop offset="0.5" stop-color="#a32460"/><stop offset="0.6" stop-color="#b32155"/><stop offset="0.7" stop-color="#c21e4a"/><stop offset="0.8" stop-color="#d11a3e"/><stop offset="0.9" stop-color="#e01532"/><stop offset="1.0" stop-color="#ee0e24"/></linearGradient></defs>
<rect x="359.3" y="420.0" width="5" height="24.80000000000001" fill="url(#pg414)"/>
<line x1="359.3" y1="419.9" x2="360.2" y2="419.9" stroke="#fff" stroke-width="0.4"/>
<line x1="363.4" y1="419.9" x2="364.3" y2="419.9" stroke="#fff" stroke-width="0.4"/>
<text x="365.5" y="422.29999999999995" font-size="5.5" letter-spacing="0.3" fill="#222">0.50</text>
<line x1="359.3" y1="424.9" x2="360.2" y2="424.9" stroke="#fff" stroke-width="0.4"/>
<line x1="363.4" y1="424.9" x2="364.3" y2="424.9" stroke="#fff" stroke-width="0.4"/>
<text x="365.5" y="427.29999999999995" font-size="5.5" letter-spacing="0.3" fill="#222">0.40</text>
<line x1="359.3" y1="429.9" x2="360.2" y2="429.9" stroke="#fff" stroke-width="0.4"/>
<line x1="363.4" y1="429.9" x2="364.3" y2="429.9" stroke="#fff" stroke-width="0.4"/>
<text x="365.5" y="432.29999999999995" font-size="5.5" letter-spacing="0.3" fill="#222">0.30</text>
<line x1="359.3" y1="434.8" x2="360.2" y2="434.8" stroke="#fff" stroke-width="0.4"/>
<line x1="363.4" y1="434.8" x2="364.3" y2="434.8" stroke="#fff" stroke-width="0.4"/>
<text x="365.5" y="437.2" font-size="5.5" letter-spacing="0.3" fill="#222">0.20</text>
<line x1="359.3" y1="439.7" x2="360.2" y2="439.7" stroke="#fff" stroke-width="0.4"/>
<line x1="363.4" y1="439.7" x2="364.3" y2="439.7" stroke="#fff" stroke-width="0.4"/>
<text x="365.5" y="442.09999999999997" font-size="5.5" letter-spacing="0.3" fill="#222">0.10</text>
<line x1="359.3" y1="444.6" x2="360.2" y2="444.6" stroke="#fff" stroke-width="0.4"/>
<line x1="363.4" y1="444.6" x2="364.3" y2="444.6" stroke="#fff" stroke-width="0.4"/>
<text x="365.5" y="447.0" font-size="5.5" letter-spacing="0.3" fill="#222">0.10</text>
<text x="358.6" y="462.1" font-size="6.6" fill="#222">Number</text>
<circle cx="360.6" cy="468.4" r="0.7" fill="#111"/>
<text x="366.4" y="470.4" font-size="5.6" fill="#222">2</text>
<circle cx="360.5" cy="474.4" r="1.5" fill="#111"/>
<text x="366.4" y="476.4" font-size="5.6" fill="#222">10</text>
<circle cx="360.6" cy="480.5" r="2.15" fill="#111"/>
<text x="366.4" y="482.5" font-size="5.6" fill="#222">18</text>
<circle cx="360.6" cy="486.5" r="2.55" fill="#111"/>
<text x="366.4" y="488.5" font-size="5.6" fill="#222">26</text>
</svg>
</body></html>
